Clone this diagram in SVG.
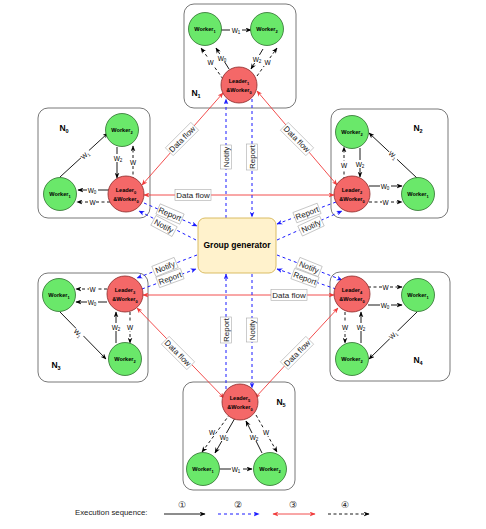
<svg xmlns="http://www.w3.org/2000/svg" width="486" height="529" viewBox="0 0 486 529">
<style>
.box{fill:#fff;stroke:#555;stroke-width:0.8}
.wk{fill:#6ae86a;stroke:#2f6f2f;stroke-width:0.8}
.ld{fill:#f46868;stroke:#8a2a2a;stroke-width:0.8}
.nt{font-family:"Liberation Sans",Arial,sans-serif;font-size:5.6px;font-weight:bold;text-anchor:middle;fill:#000}
.nl{font-family:"Liberation Sans",Arial,sans-serif;font-size:8.5px;font-weight:bold;text-anchor:middle;fill:#000}
.s{stroke:#000;stroke-width:0.9;fill:none;marker-end:url(#ab)}
.d{stroke:#000;stroke-width:0.9;fill:none;stroke-dasharray:3,2.5;marker-end:url(#ab)}
.b{stroke:#1a1aff;stroke-width:1;fill:none;stroke-dasharray:3,3;marker-end:url(#abl)}
.r{stroke:#f03a3a;stroke-width:0.9;fill:none;marker-end:url(#ar);marker-start:url(#ar)}
.wl{font-family:"Liberation Sans",Arial,sans-serif;font-size:6.5px;text-anchor:middle;fill:#000}
.wb{fill:#fff}
.lb{fill:#fff;stroke:#aaa;stroke-width:0.6}
.lt{font-family:"Liberation Sans",Arial,sans-serif;font-size:8px;text-anchor:middle;fill:#222}
.gg{fill:#fff2cc;stroke:#d6b656;stroke-width:0.9}
.cn{font-family:"DejaVu Sans",sans-serif;font-size:9px;text-anchor:middle;fill:#222}
</style>
<defs>
<marker id="ab" viewBox="0 0 10 8" refX="9" refY="4" markerWidth="6" markerHeight="5" markerUnits="userSpaceOnUse" orient="auto-start-reverse"><path d="M0,0 L10,4 L0,8 L3,4 z" fill="#000"/></marker>
<marker id="abl" viewBox="0 0 10 8" refX="9" refY="4" markerWidth="6" markerHeight="5" markerUnits="userSpaceOnUse" orient="auto-start-reverse"><path d="M0,0 L10,4 L0,8 L3,4 z" fill="#1a1aff"/></marker>
<marker id="ar" viewBox="0 0 10 8" refX="9" refY="4" markerWidth="6" markerHeight="5" markerUnits="userSpaceOnUse" orient="auto-start-reverse"><path d="M0,0 L10,4 L0,8 L3,4 z" fill="#f03a3a"/></marker>
</defs>
<rect width="486" height="529" fill="#fff"/>

<!-- cluster boxes -->
<g id="N1">
<rect class="box" x="184" y="4" width="112" height="104" rx="10"/>
<text class="nl" x="196" y="96">N<tspan font-size="5.5" dy="1.5">1</tspan></text>
</g>
<g id="N0">
<rect class="box" x="38" y="108" width="112" height="110" rx="10"/>
<text class="nl" x="64" y="131">N<tspan font-size="5.5" dy="1.5">0</tspan></text>
</g>
<g id="N2">
<rect class="box" x="331" y="109" width="117" height="109" rx="10"/>
<text class="nl" x="418" y="131">N<tspan font-size="5.5" dy="1.5">2</tspan></text>
</g>
<g id="N3">
<rect class="box" x="38" y="273" width="110" height="109" rx="10"/>
<text class="nl" x="56" y="368">N<tspan font-size="5.5" dy="1.5">3</tspan></text>
</g>
<g id="N4">
<rect class="box" x="330" y="272" width="120" height="109" rx="10"/>
<text class="nl" x="418" y="363">N<tspan font-size="5.5" dy="1.5">4</tspan></text>
</g>
<g id="N5">
<rect class="box" x="183" y="382" width="112" height="108" rx="10"/>
<text class="nl" x="281" y="405">N<tspan font-size="5.5" dy="1.5">5</tspan></text>
</g>

<!-- connectors -->
<g id="connectors">
<line class="r" x1="223" y1="93" x2="142" y2="185"/>
<line class="r" x1="257" y1="91" x2="337" y2="185"/>
<line class="r" x1="144" y1="195" x2="334" y2="195"/>
<line class="r" x1="143" y1="295" x2="334" y2="295"/>
<line class="r" x1="137" y1="308" x2="224" y2="398"/>
<line class="r" x1="338" y1="308" x2="255" y2="398"/>

<line class="b" x1="226" y1="218" x2="226" y2="99"/>
<line class="b" x1="252" y1="99" x2="252" y2="217"/>
<line class="b" x1="226" y1="389" x2="226" y2="274"/>
<line class="b" x1="252" y1="274" x2="252" y2="388"/>
<line class="b" x1="144" y1="203" x2="197" y2="226"/>
<line class="b" x1="196" y1="240" x2="139" y2="211"/>
<line class="b" x1="336" y1="202" x2="277" y2="224"/>
<line class="b" x1="277" y1="240" x2="342" y2="211"/>
<line class="b" x1="197" y1="255" x2="137" y2="278"/>
<line class="b" x1="142" y1="289" x2="196" y2="269"/>
<line class="b" x1="277" y1="255" x2="342" y2="280"/>
<line class="b" x1="336" y1="289" x2="277" y2="269"/>

<line class="s" x1="221" y1="30" x2="251" y2="30"/>
<line class="s" x1="229" y1="69" x2="216" y2="48"/>
<line class="d" x1="223" y1="79" x2="201" y2="48"/>
<line class="s" x1="263" y1="49" x2="251" y2="69"/>
<line class="d" x1="257" y1="76" x2="277" y2="48"/>

<line class="s" x1="60" y1="177" x2="108" y2="133"/>
<line class="s" x1="117" y1="147" x2="117" y2="178"/>
<line class="d" x1="133" y1="180" x2="133" y2="146"/>
<line class="s" x1="109" y1="190" x2="78" y2="190"/>
<line class="d" x1="110" y1="202" x2="77" y2="202"/>

<line class="s" x1="417" y1="178" x2="369" y2="133"/>
<line class="s" x1="360" y1="148" x2="360" y2="177"/>
<line class="d" x1="344" y1="180" x2="344" y2="147"/>
<line class="s" x1="369" y1="186" x2="402" y2="186"/>
<line class="d" x1="369" y1="202" x2="402" y2="202"/>

<line class="d" x1="107" y1="289" x2="76" y2="289"/>
<line class="s" x1="107" y1="302" x2="76" y2="302"/>
<line class="s" x1="60" y1="312" x2="106" y2="359"/>
<line class="s" x1="116" y1="343" x2="116" y2="312"/>
<line class="d" x1="130" y1="312" x2="130" y2="343"/>

<line class="d" x1="368" y1="287" x2="402" y2="287"/>
<line class="s" x1="368" y1="305" x2="402" y2="305"/>
<line class="s" x1="417" y1="312" x2="369" y2="359"/>
<line class="d" x1="345" y1="312" x2="345" y2="343"/>
<line class="s" x1="361" y1="343" x2="361" y2="312"/>

<line class="d" x1="230" y1="414" x2="202" y2="452"/>
<line class="s" x1="235" y1="418" x2="215" y2="453"/>
<line class="s" x1="262" y1="453" x2="246" y2="421"/>
<line class="d" x1="256" y1="415" x2="277" y2="452"/>
<line class="s" x1="220" y1="469" x2="252" y2="469"/>

<g>
<rect class="wb" x="230" y="26" width="12" height="8"/><text class="wl" x="236" y="32.5">W<tspan font-size="4.5" dy="1.5">1</tspan></text>
<rect class="wb" x="217" y="54" width="11" height="8"/><text class="wl" x="222" y="60.5">W<tspan font-size="4.5" dy="1.5">0</tspan></text>
<rect class="wb" x="207" y="58" width="7" height="8"/><text class="wl" x="210.5" y="64.5">W</text>
<rect class="wb" x="252" y="55" width="11" height="8"/><text class="wl" x="257" y="61.5">W<tspan font-size="4.5" dy="1.5">2</tspan></text>
<rect class="wb" x="264" y="58" width="7" height="8"/><text class="wl" x="267.5" y="64.5">W</text>

<rect class="wb" x="113" y="154" width="11" height="8"/><text class="wl" x="118" y="160.5">W<tspan font-size="4.5" dy="1.5">2</tspan></text>
<rect class="wb" x="129.5" y="158" width="7" height="8"/><text class="wl" x="133" y="164.5">W</text>
<rect class="wb" x="87" y="186" width="11" height="8"/><text class="wl" x="92" y="192.5">W<tspan font-size="4.5" dy="1.5">0</tspan></text>
<rect class="wb" x="89" y="198" width="7" height="8"/><text class="wl" x="92.5" y="204.5">W</text>
<g transform="translate(85,155) rotate(-42)"><rect class="wb" x="-5" y="-4" width="11" height="8"/><text class="wl" x="0" y="2.5">W<tspan font-size="4.5" dy="1.5">1</tspan></text></g>

<rect class="wb" x="355" y="160" width="11" height="8"/><text class="wl" x="360" y="166.5">W<tspan font-size="4.5" dy="1.5">2</tspan></text>
<rect class="wb" x="340.5" y="161" width="7" height="8"/><text class="wl" x="344" y="167.5">W</text>
<rect class="wb" x="380" y="182" width="11" height="8"/><text class="wl" x="385" y="188.5">W<tspan font-size="4.5" dy="1.5">0</tspan></text>
<rect class="wb" x="382" y="198" width="7" height="8"/><text class="wl" x="385.5" y="204.5">W</text>
<g transform="translate(393,155) rotate(42)"><rect class="wb" x="-5" y="-4" width="11" height="8"/><text class="wl" x="0" y="2.5">W<tspan font-size="4.5" dy="1.5">1</tspan></text></g>

<rect class="wb" x="89" y="285" width="7" height="8"/><text class="wl" x="92.5" y="291.5">W</text>
<rect class="wb" x="87" y="298" width="11" height="8"/><text class="wl" x="92" y="304.5">W<tspan font-size="4.5" dy="1.5">0</tspan></text>
<rect class="wb" x="111" y="323" width="11" height="8"/><text class="wl" x="116" y="329.5">W<tspan font-size="4.5" dy="1.5">2</tspan></text>
<rect class="wb" x="126.5" y="323" width="7" height="8"/><text class="wl" x="130" y="329.5">W</text>
<g transform="translate(78,333) rotate(45)"><rect class="wb" x="-5" y="-4" width="11" height="8"/><text class="wl" x="0" y="2.5">W<tspan font-size="4.5" dy="1.5">1</tspan></text></g>

<rect class="wb" x="382" y="283" width="7" height="8"/><text class="wl" x="385.5" y="289.5">W</text>
<rect class="wb" x="380" y="301" width="11" height="8"/><text class="wl" x="385" y="307.5">W<tspan font-size="4.5" dy="1.5">0</tspan></text>
<rect class="wb" x="341.5" y="323" width="7" height="8"/><text class="wl" x="345" y="329.5">W</text>
<rect class="wb" x="356" y="323" width="11" height="8"/><text class="wl" x="361" y="329.5">W<tspan font-size="4.5" dy="1.5">2</tspan></text>
<g transform="translate(393,335) rotate(-45)"><rect class="wb" x="-5" y="-4" width="11" height="8"/><text class="wl" x="0" y="2.5">W<tspan font-size="4.5" dy="1.5">1</tspan></text></g>

<rect class="wb" x="208.5" y="428" width="7" height="8"/><text class="wl" x="212" y="434.5">W</text>
<rect class="wb" x="219" y="433" width="11" height="8"/><text class="wl" x="224" y="439.5">W<tspan font-size="4.5" dy="1.5">0</tspan></text>
<rect class="wb" x="249" y="433" width="11" height="8"/><text class="wl" x="254" y="439.5">W<tspan font-size="4.5" dy="1.5">2</tspan></text>
<rect class="wb" x="262.5" y="428" width="7" height="8"/><text class="wl" x="266" y="434.5">W</text>
<rect class="wb" x="231" y="465" width="12" height="8"/><text class="wl" x="236" y="471.5">W<tspan font-size="4.5" dy="1.5">1</tspan></text>
</g>

<g>
<g transform="translate(182,139) rotate(-45)"><rect class="lb" x="-18" y="-5.5" width="36" height="11"/><text class="lt" x="0" y="3">Data flow</text></g>
<g transform="translate(297,139) rotate(45)"><rect class="lb" x="-18" y="-5.5" width="36" height="11"/><text class="lt" x="0" y="3">Data flow</text></g>
<g transform="translate(193,195)"><rect class="lb" x="-18" y="-5.5" width="36" height="11"/><text class="lt" x="0" y="3">Data flow</text></g>
<g transform="translate(289,295)"><rect class="lb" x="-18" y="-5.5" width="36" height="11"/><text class="lt" x="0" y="3">Data flow</text></g>
<g transform="translate(178,353) rotate(45)"><rect class="lb" x="-18" y="-5.5" width="36" height="11"/><text class="lt" x="0" y="3">Data flow</text></g>
<g transform="translate(297,353) rotate(-45)"><rect class="lb" x="-18" y="-5.5" width="36" height="11"/><text class="lt" x="0" y="3">Data flow</text></g>

<g transform="translate(226,157) rotate(-90)"><rect class="lb" x="-12" y="-5.5" width="24" height="11"/><text class="lt" x="0" y="3">Notify</text></g>
<g transform="translate(252,157) rotate(-90)"><rect class="lb" x="-13" y="-5.5" width="26" height="11"/><text class="lt" x="0" y="3">Report</text></g>
<g transform="translate(226,330) rotate(-90)"><rect class="lb" x="-13" y="-5.5" width="26" height="11"/><text class="lt" x="0" y="3">Report</text></g>
<g transform="translate(252,330) rotate(-90)"><rect class="lb" x="-12" y="-5.5" width="24" height="11"/><text class="lt" x="0" y="3">Notify</text></g>

<g transform="translate(170,214) rotate(23)"><rect class="lb" x="-13" y="-5.5" width="26" height="11"/><text class="lt" x="0" y="3">Report</text></g>
<g transform="translate(164,226) rotate(28)"><rect class="lb" x="-12" y="-5.5" width="24" height="11"/><text class="lt" x="0" y="3">Notify</text></g>
<g transform="translate(307,213) rotate(-21)"><rect class="lb" x="-13" y="-5.5" width="26" height="11"/><text class="lt" x="0" y="3">Report</text></g>
<g transform="translate(311,226) rotate(-25)"><rect class="lb" x="-12" y="-5.5" width="24" height="11"/><text class="lt" x="0" y="3">Notify</text></g>
<g transform="translate(165,267) rotate(-22)"><rect class="lb" x="-12" y="-5.5" width="24" height="11"/><text class="lt" x="0" y="3">Notify</text></g>
<g transform="translate(170,278) rotate(-20)"><rect class="lb" x="-13" y="-5.5" width="26" height="11"/><text class="lt" x="0" y="3">Report</text></g>
<g transform="translate(309,267) rotate(22)"><rect class="lb" x="-12" y="-5.5" width="24" height="11"/><text class="lt" x="0" y="3">Notify</text></g>
<g transform="translate(305,278) rotate(20)"><rect class="lb" x="-13" y="-5.5" width="26" height="11"/><text class="lt" x="0" y="3">Report</text></g>
</g>
</g>

<!-- nodes -->
<g id="gg"><rect class="gg" x="198" y="218" width="78" height="55" rx="7"/><text class="nl" x="237" y="248" font-size="9">Group generator</text></g>

<g id="N1-worker1"><circle class="wk" cx="205" cy="29" r="16.5"/><text class="nt" x="205" y="31">Worker<tspan font-size="4" dy="1.5">1</tspan></text></g>
<g id="N1-worker2"><circle class="wk" cx="267" cy="29" r="16.5"/><text class="nt" x="267" y="31">Worker<tspan font-size="4" dy="1.5">2</tspan></text></g>
<g id="N1-leader"><circle class="ld" cx="239" cy="85" r="18"/><text class="nt" x="239" y="83">Leader<tspan font-size="4" dy="1.5">1</tspan></text><text class="nt" x="239" y="92">&amp;Worker<tspan font-size="4" dy="1.5">0</tspan></text></g>

<g id="N0-worker2"><circle class="wk" cx="122" cy="130" r="16.5"/><text class="nt" x="122" y="132">Worker<tspan font-size="4" dy="1.5">2</tspan></text></g>
<g id="N0-worker1"><circle class="wk" cx="60" cy="194" r="16.5"/><text class="nt" x="60" y="196">Worker<tspan font-size="4" dy="1.5">1</tspan></text></g>
<g id="N0-leader"><circle class="ld" cx="126" cy="194" r="18"/><text class="nt" x="126" y="192">Leader<tspan font-size="4" dy="1.5">0</tspan></text><text class="nt" x="126" y="201">&amp;Worker<tspan font-size="4" dy="1.5">0</tspan></text></g>

<g id="N2-worker2"><circle class="wk" cx="352" cy="132" r="16.5"/><text class="nt" x="352" y="134">Worker<tspan font-size="4" dy="1.5">2</tspan></text></g>
<g id="N2-worker1"><circle class="wk" cx="418" cy="194" r="16.5"/><text class="nt" x="418" y="196">Worker<tspan font-size="4" dy="1.5">1</tspan></text></g>
<g id="N2-leader"><circle class="ld" cx="352" cy="194" r="18"/><text class="nt" x="352" y="192">Leader<tspan font-size="4" dy="1.5">2</tspan></text><text class="nt" x="352" y="201">&amp;Worker<tspan font-size="4" dy="1.5">0</tspan></text></g>

<g id="N3-worker1"><circle class="wk" cx="59" cy="295" r="16.5"/><text class="nt" x="59" y="297">Worker<tspan font-size="4" dy="1.5">1</tspan></text></g>
<g id="N3-leader"><circle class="ld" cx="125" cy="294" r="18"/><text class="nt" x="125" y="292">Leader<tspan font-size="4" dy="1.5">3</tspan></text><text class="nt" x="125" y="301">&amp;Worker<tspan font-size="4" dy="1.5">0</tspan></text></g>
<g id="N3-worker2"><circle class="wk" cx="125" cy="359" r="16.5"/><text class="nt" x="125" y="361">Worker<tspan font-size="4" dy="1.5">2</tspan></text></g>

<g id="N4-leader"><circle class="ld" cx="352" cy="294" r="18"/><text class="nt" x="352" y="292">Leader<tspan font-size="4" dy="1.5">4</tspan></text><text class="nt" x="352" y="301">&amp;Worker<tspan font-size="4" dy="1.5">0</tspan></text></g>
<g id="N4-worker1"><circle class="wk" cx="418" cy="295" r="16.5"/><text class="nt" x="418" y="297">Worker<tspan font-size="4" dy="1.5">1</tspan></text></g>
<g id="N4-worker2"><circle class="wk" cx="352" cy="359" r="16.5"/><text class="nt" x="352" y="361">Worker<tspan font-size="4" dy="1.5">2</tspan></text></g>

<g id="N5-leader"><circle class="ld" cx="240" cy="402" r="18"/><text class="nt" x="240" y="400">Leader<tspan font-size="4" dy="1.5">5</tspan></text><text class="nt" x="240" y="409">&amp;Worker<tspan font-size="4" dy="1.5">0</tspan></text></g>
<g id="N5-worker1"><circle class="wk" cx="203" cy="469" r="16.5"/><text class="nt" x="203" y="471">Worker<tspan font-size="4" dy="1.5">1</tspan></text></g>
<g id="N5-worker2"><circle class="wk" cx="270" cy="469" r="16.5"/><text class="nt" x="270" y="471">Worker<tspan font-size="4" dy="1.5">2</tspan></text></g>

<!-- legend -->
<g id="legend">
<text x="75" y="515" font-family="Liberation Sans,Arial,sans-serif" font-size="7.8" fill="#222">Execution sequence:</text>
<text class="cn" x="182" y="508">①</text>
<text class="cn" x="238" y="508">②</text>
<text class="cn" x="293" y="508">③</text>
<text class="cn" x="345" y="508">④</text>
<line class="s" x1="164" y1="514" x2="205" y2="514"/>
<line class="b" x1="218" y1="514" x2="259" y2="514"/>
<line class="r" x1="273" y1="514" x2="315" y2="514"/>
<line class="d" x1="328" y1="514" x2="369" y2="514"/>
</g>
</svg>
